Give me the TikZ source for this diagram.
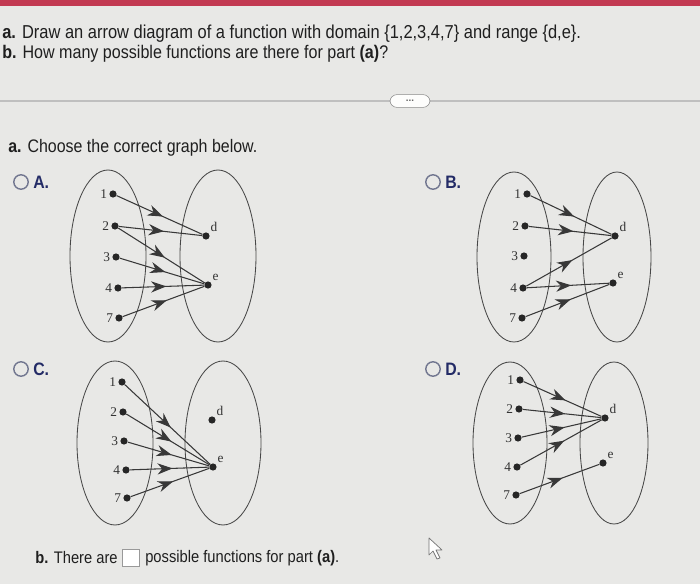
\documentclass[tikz,border=0pt]{standalone}
\usepackage{fontspec}
\setmainfont{Liberation Sans}
\newfontfamily\uifont[FakeStretch=0.88]{Liberation Sans}
\newfontfamily\figfont{Liberation Serif}
\usetikzlibrary{arrows.meta,decorations.markings}
\definecolor{screenbg}{HTML}{E8E8E6}
\definecolor{topband}{HTML}{C23A52}
\definecolor{radionavy}{HTML}{232B66}
\definecolor{radioring}{HTML}{727790}
\tikzset{
	qtext/.style={anchor=west, inner sep=0pt, text=black!88, font=\uifont\fontsize{13.3}{15}\selectfont},
	pt/.style={circle, fill=black!85, inner sep=0pt, minimum size=0.18cm},
	setline/.style={draw=black!72, line width=0.6pt},
	maparrow/.style={draw=black!78, line width=0.75pt, postaction={decorate},
		decoration={markings, mark=at position 0.54 with {\arrow{Stealth[length=3.8mm,width=2.8mm,inset=1.2mm]}}}},
	elem/.style={font=\figfont\fontsize{9.5}{10}\selectfont, text=black!80, inner sep=1.2pt},
	radio/.style={circle, draw=radioring, line width=1pt, minimum size=0.36cm, inner sep=0pt},
	radiolab/.style={anchor=west, inner sep=0pt, text=radionavy, font=\uifont\bfseries\fontsize{12.8}{14}\selectfont},
}

\begin{document}
\begin{tikzpicture}[x=0.025cm, y=-0.025cm]
		%%%%% START %%%%%
		\useasboundingbox (0, 0) rectangle (700, 584);
		\fill[screenbg] (0, 0) rectangle (700, 584);
		\fill[topband] (0, 0) rectangle (700, 6);
		
		% question
		\node[qtext] (qa) at (2, 34) {\textbf{a.} Draw an arrow diagram of a function with domain \{1,2,3,4,7\} and range \{d,e\}.};
		\node[qtext, font=\uifont\fontsize{13}{15}\selectfont] (qb) at (2, 54) {\textbf{b.} How many possible functions are there for part \textbf{(a)}?};
		
		\draw[black!25, line width=0.8pt] (0, 101) -- (390, 101);
		\draw[black!25, line width=0.8pt] (430, 101) -- (700, 101);
		\node[draw=black!45, fill=white!90!screenbg, rounded corners=5pt, minimum width=1cm, minimum height=0.32cm, inner sep=0pt,
			font=\fontsize{7}{7}\selectfont, text=black!60] (more) at (410, 101) {\textbf{...}};
		
		\node[qtext, font=\uifont\fontsize{12.9}{15}\selectfont] (parta) at (8, 148) {\textbf{a.} Choose the correct graph below.};
		
		% radio buttons
		\node[radio] (rA) at (21, 182) {};
		\node[radiolab] (lA) at (33, 182) {A.};
		\node[radio] (rB) at (433, 182) {};
		\node[radiolab] (lB) at (445, 182) {B.};
		\node[radio] (rC) at (21, 369) {};
		\node[radiolab] (lC) at (33, 369) {C.};
		\node[radio] (rD) at (433, 369) {};
		\node[radiolab] (lD) at (445, 369) {D.};
		
		% choice A
		\draw[setline] (108, 256) ellipse [x radius=38, y radius=86];
		\draw[setline] (218, 256) ellipse [x radius=38, y radius=86];
		\node[pt, label={[elem]left:1}] (A1) at (113, 194) {};
		\node[pt, label={[elem]left:2}] (A2) at (115, 226) {};
		\node[pt, label={[elem]left:3}] (A3) at (116, 257) {};
		\node[pt, label={[elem]left:4}] (A4) at (118, 288) {};
		\node[pt, label={[elem]left:7}] (A7) at (119, 318) {};
		\node[pt, label={[elem]above right:d}] (Ad) at (206, 236) {};
		\node[pt, label={[elem]above right:e}] (Ae) at (208, 285) {};
		\draw[maparrow] (A1) -- (Ad);
		\draw[maparrow] (A2) -- (Ad);
		\draw[maparrow] (A2) -- (Ae);
		\draw[maparrow] (A3) -- (Ae);
		\draw[maparrow] (A4) -- (Ae);
		\draw[maparrow] (A7) -- (Ae);
		
		% choice B
		\draw[setline] (514, 257) ellipse [x radius=37, y radius=85];
		\draw[setline] (617, 257) ellipse [x radius=34, y radius=85];
		\node[pt, label={[elem]left:1}] (B1) at (527, 194) {};
		\node[pt, label={[elem]left:2}] (B2) at (525, 226) {};
		\node[pt, label={[elem]left:3}] (B3) at (524, 256) {};
		\node[pt, label={[elem]left:4}] (B4) at (523, 288) {};
		\node[pt, label={[elem]left:7}] (B7) at (522, 318) {};
		\node[pt, label={[elem]above right:d}] (Bd) at (615, 236) {};
		\node[pt, label={[elem]above right:e}] (Be) at (613, 283) {};
		\draw[maparrow] (B1) -- (Bd);
		\draw[maparrow] (B2) -- (Bd);
		\draw[maparrow] (B4) -- (Bd);
		\draw[maparrow] (B4) -- (Be);
		\draw[maparrow] (B7) -- (Be);
		
		% choice C
		\draw[setline] (115, 443) ellipse [x radius=38, y radius=82];
		\draw[setline] (223, 443) ellipse [x radius=38, y radius=82];
		\node[pt, label={[elem]left:1}] (C1) at (122, 382) {};
		\node[pt, label={[elem]left:2}] (C2) at (123, 412) {};
		\node[pt, label={[elem]left:3}] (C3) at (124, 441) {};
		\node[pt, label={[elem]left:4}] (C4) at (126, 470) {};
		\node[pt, label={[elem]left:7}] (C7) at (127, 498) {};
		\node[pt, label={[elem]above right:d}] (Cd) at (212, 420) {};
		\node[pt, label={[elem]above right:e}] (Ce) at (213, 467) {};
		\draw[maparrow] (C1) -- (Ce);
		\draw[maparrow] (C2) -- (Ce);
		\draw[maparrow] (C3) -- (Ce);
		\draw[maparrow] (C4) -- (Ce);
		\draw[maparrow] (C7) -- (Ce);
		
		% choice D
		\draw[setline] (510, 443) ellipse [x radius=37, y radius=81];
		\draw[setline] (614, 443) ellipse [x radius=34, y radius=81];
		\node[pt, label={[elem]left:1}] (D1) at (520, 380) {};
		\node[pt, label={[elem]left:2}] (D2) at (519, 409) {};
		\node[pt, label={[elem]left:3}] (D3) at (518, 438) {};
		\node[pt, label={[elem]left:4}] (D4) at (517, 467) {};
		\node[pt, label={[elem]left:7}] (D7) at (516, 495) {};
		\node[pt, label={[elem]above right:d}] (Dd) at (605, 418) {};
		\node[pt, label={[elem]above right:e}] (De) at (603, 463) {};
		\draw[maparrow] (D1) -- (Dd);
		\draw[maparrow] (D2) -- (Dd);
		\draw[maparrow] (D3) -- (Dd);
		\draw[maparrow] (D4) -- (Dd);
		\draw[maparrow] (D7) -- (De);
		
		% part b
		\node[qtext, font=\uifont\fontsize{11.9}{14}\selectfont] (partb) at (35, 558) {\textbf{b.} There are};
		\node[draw=black!40, fill=white, minimum width=0.43cm, minimum height=0.43cm, inner sep=0pt] (answer) at (130.5, 558) {};
		\node[qtext, font=\uifont\fontsize{11.9}{14}\selectfont] (partbend) at (145, 558) {possible functions for part \textbf{(a)}.};
		
		% mouse pointer
		\draw[black!55, fill=white, line width=0.5pt, line join=round]
			(429, 538) -- (429, 555) -- (433, 551) -- (437, 559) -- (440, 558) -- (436, 550) -- (442, 550) -- cycle;
		%%%%% END %%%%%
	\end{tikzpicture}
\end{document}
